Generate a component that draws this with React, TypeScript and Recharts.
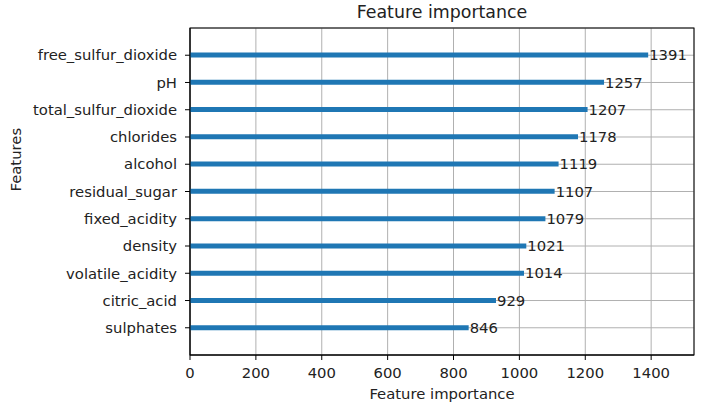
import React from "react";
import * as R from "recharts";
import {
  Bar,
  BarChart,
  CartesianGrid,
  LabelList,
  XAxis,
  YAxis,
} from "recharts";

const features = [
  "free_sulfur_dioxide",
  "pH",
  "total_sulfur_dioxide",
  "chlorides",
  "alcohol",
  "residual_sugar",
  "fixed_acidity",
  "density",
  "volatile_acidity",
  "citric_acid",
  "sulphates",
];
const importance = [1391, 1257, 1207, 1178, 1119, 1107, 1079, 1021, 1014, 929, 846];
const xTicks = [0, 200, 400, 600, 800, 1000, 1200, 1400];

const data = features.map((name, i) => ({ name, value: importance[i] }));
const xMax = Math.max(...importance) * 1.1;

const FONT = "DejaVu Sans";
const TXT = "#222";
const FS = 14.8;

// matplotlib-style box around the plot area
const Frame = () => {
  const hook = (R as any).usePlotArea;
  const area = hook ? hook() : null;
  const a = area || { x: 190, y: 28, width: 504, height: 327 };
  return (
    <rect x={a.x} y={a.y} width={a.width} height={a.height} fill="none" stroke="#000" strokeWidth={1} />
  );
};

const App = () => {
  return (
    <div style={{ position: "absolute", left: 0, top: 0, width: 723, height: 404, background: "#fff" }}>
      <div
        style={{
          position: "absolute",
          top: 2,
          left: 190,
          width: 504,
          textAlign: "center",
          fontFamily: FONT,
          fontSize: 17.4,
          color: TXT,
        }}
      >
        Feature importance
      </div>
      <BarChart
        width={723}
        height={404}
        data={data}
        layout="vertical"
        margin={{ top: 28, right: 29, bottom: 18, left: 0 }}
        style={{ fontFamily: FONT }}
      >
        <XAxis
          type="number"
          dataKey="value"
          domain={[0, xMax]}
          ticks={xTicks}
          allowDataOverflow
          tickSize={5}
          tickMargin={7}
          height={31}
          tick={{ fontSize: FS, fill: TXT }}
          axisLine={{ stroke: "#000" }}
          tickLine={{ stroke: "#000" }}
          label={{
            value: "Feature importance",
            position: "insideBottom",
            offset: -13,
            fontSize: FS,
            fill: TXT,
          }}
        />
        <YAxis
          type="category"
          dataKey="name"
          width={190}
          interval={0}
          padding={{ top: 13.6, bottom: 13.6 }}
          tickSize={5}
          tickMargin={8}
          tick={{ fontSize: FS, fill: TXT }}
          axisLine={{ stroke: "#000" }}
          tickLine={{ stroke: "#000" }}
          label={{
            value: "Features",
            angle: -90,
            position: "insideLeft",
            offset: 16,
            fontSize: FS,
            fill: TXT,
          }}
        />
        <Bar dataKey="value" fill="#1f77b4" barSize={5} isAnimationActive={false}>
          <LabelList dataKey="value" position="right" offset={1} fontSize={FS} fill={TXT} />
        </Bar>
        <CartesianGrid stroke="#b0b0b0" strokeWidth={1} />
        <Frame />
      </BarChart>
    </div>
  );
};

export default App;
